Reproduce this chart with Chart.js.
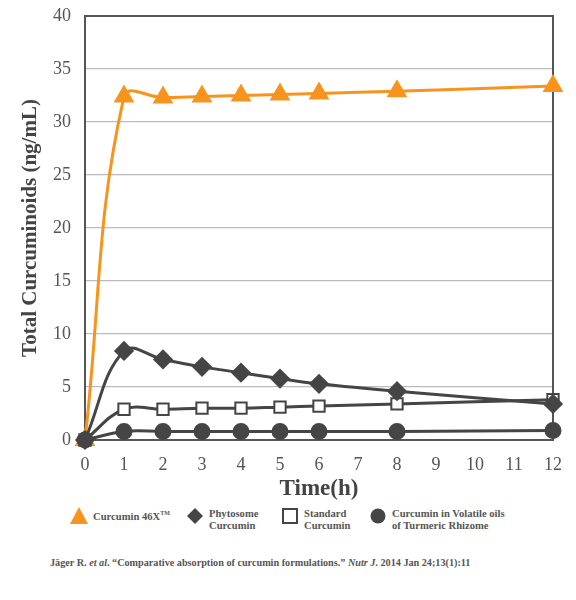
<!DOCTYPE html>
<html>
<head>
<meta charset="utf-8">
<script src="https://cdn.jsdelivr.net/npm/chart.js@4/dist/chart.umd.min.js"></script>
<style>
  body { margin: 0; background: #fff; font-family: "Liberation Serif", "DejaVu Serif", serif; }
  #wrap { position: relative; width: 576px; height: 503px; }
  .legend { position: absolute; top: 506px; left: 0; width: 576px; height: 40px; }
  .item { position: absolute; top: 0; display: flex; align-items: flex-start; }
  .item canvas { margin-right: 4px; }
  .item span { font-family: "Liberation Serif", serif; font-weight: bold; font-size: 10.6px; line-height: 11.5px; color: #555; padding-top: 2px; }
  .cite { position: absolute; top: 557px; left: 50px; font-family: "Liberation Serif", serif; font-weight: bold; font-size: 10.2px; color: #555; white-space: nowrap; }
</style>
</head>
<body>
<div id="wrap"><canvas id="chartCurcumin"></canvas></div>
<div class="legend" id="legend"></div>
<div class="cite">Jäger R. <i>et al</i>. “Comparative absorption of curcumin formulations.” <i>Nutr J</i>. 2014 Jan 24;13(1):11</div>

<script>
// ── Données ──────────────────────────────────────────
const hours       = [0, 1, 2, 3, 4, 5, 6, 8, 12];
const curcumin46x = [0, 32.4, 32.3, 32.4, 32.5, 32.6, 32.7, 32.9, 33.4];
const phytosome   = [0, 8.4, 7.6, 6.9, 6.35, 5.8, 5.3, 4.6, 3.4];
const standard    = [0, 2.9, 2.9, 3.0, 3.0, 3.1, 3.2, 3.4, 3.8];
const volatileOil = [0, 0.8, 0.8, 0.8, 0.8, 0.8, 0.8, 0.8, 0.9];
const yTicks      = [0, 5, 10, 15, 20, 25, 30, 35, 40];

const ORANGE = '#f7941d';
const DARK   = '#454545';
const SERIF  = 'Liberation Serif';

const pts = arr => hours.map((h, i) => ({ x: h, y: arr[i] }));

// cadre du graphique
const frame = {
  id: 'frame',
  beforeDatasetsDraw(chart) {
    const { ctx, chartArea: a } = chart;
    ctx.save();
    ctx.strokeStyle = '#555';
    ctx.lineWidth = 2;
    ctx.strokeRect(a.left, a.top, a.right - a.left, a.bottom - a.top);
    ctx.restore();
  }
};

const datasets = [
  { label: 'Curcumin 46X™', data: pts(curcumin46x), borderColor: ORANGE, backgroundColor: ORANGE,
    pointStyle: 'triangle', pointRadius: 9, order: 2 },
  { label: 'Phytosome Curcumin', data: pts(phytosome), borderColor: DARK, backgroundColor: DARK,
    pointStyle: 'rectRot', pointRadius: 8, order: 1 },
  { label: 'Standard Curcumin', data: pts(standard), borderColor: DARK, backgroundColor: '#fff',
    pointStyle: 'rect', pointRadius: 8, pointBorderWidth: 2, order: 1 },
  { label: 'Curcumin in Volatile oils of Turmeric Rhizome', data: pts(volatileOil), borderColor: DARK, backgroundColor: DARK,
    pointStyle: 'circle', pointRadius: 7, order: 1 }
];
datasets.forEach(d => { d.borderWidth = 3; d.tension = 0.4; d.clip = false; d.pointHoverRadius = d.pointRadius; });

new Chart(document.getElementById('chartCurcumin'), {
  type: 'line',
  data: { datasets },
  plugins: [frame],
  options: {
    responsive: true,
    maintainAspectRatio: false,
    animation: false,
    layout: { padding: { top: 16, right: 23, bottom: 0, left: 14 } },
    plugins: { legend: { display: false }, tooltip: { enabled: false } },
    scales: {
      x: {
        type: 'linear', min: 0, max: 12,
        afterFit: s => { s.height = 63; s.paddingLeft = 0; s.paddingRight = 0; },
        grid: { display: false },
        border: { display: false },
        ticks: { stepSize: 1, color: '#555', padding: 6, font: { family: SERIF, size: 18 } },
        title: { display: true, text: 'Time(h)', color: '#444', padding: { top: 0, bottom: 0 },
                 font: { family: SERIF, size: 23, weight: 'bold' } }
      },
      y: {
        min: 0, max: 40,
        afterFit: s => { s.width = 71; s.paddingTop = 0; s.paddingBottom = 0; },
        afterBuildTicks: s => { s.ticks = yTicks.map(v => ({ value: v })); },
        grid: { color: '#bbb', lineWidth: 1.2, drawTicks: false },
        border: { display: false },
        ticks: { color: '#555', padding: 14, font: { family: SERIF, size: 18 } },
        title: { display: true, text: 'Total Curcuminoids (ng/mL)', color: '#444', padding: { bottom: 4 },
                 font: { family: SERIF, size: 21, weight: 'bold' } }
      }
    }
  }
});

// ── Légende HTML ─────────────────────────────────────
const legendItems = [
  { x: 69,  lines: ['Curcumin 46X<sup style="font-size:6px">TM</sup>'], ds: 0 },
  { x: 185, lines: ['Phytosome', 'Curcumin'], ds: 1 },
  { x: 280, lines: ['Standard', 'Curcumin'], ds: 2 },
  { x: 368, lines: ['Curcumin in Volatile oils', 'of Turmeric Rhizome'], ds: 3 }
];
const legend = document.getElementById('legend');
legendItems.forEach(it => {
  const d = datasets[it.ds];
  const div = document.createElement('div');
  div.className = 'item';
  div.style.left = it.x + 'px';
  const c = document.createElement('canvas');
  c.width = 20; c.height = 20;
  const g = c.getContext('2d');
  g.fillStyle = d.backgroundColor;
  g.strokeStyle = d.borderColor;
  g.lineWidth = 2;
  if (d.pointStyle === 'triangle') {
    g.beginPath(); g.moveTo(10, 1); g.lineTo(19, 18); g.lineTo(1, 18); g.closePath(); g.fill();
  } else if (d.pointStyle === 'rectRot') {
    g.beginPath(); g.moveTo(10, 2); g.lineTo(18, 10); g.lineTo(10, 18); g.lineTo(2, 10); g.closePath(); g.fill();
  } else if (d.pointStyle === 'rect') {
    g.fillRect(3, 3, 14, 14); g.strokeRect(3, 3, 14, 14);
  } else {
    g.beginPath(); g.arc(10, 10, 7.5, 0, Math.PI * 2); g.fill();
  }
  div.appendChild(c);
  const s = document.createElement('span');
  s.innerHTML = it.lines.join('<br>');
  div.appendChild(s);
  legend.appendChild(div);
});
</script>
</body>
</html>
